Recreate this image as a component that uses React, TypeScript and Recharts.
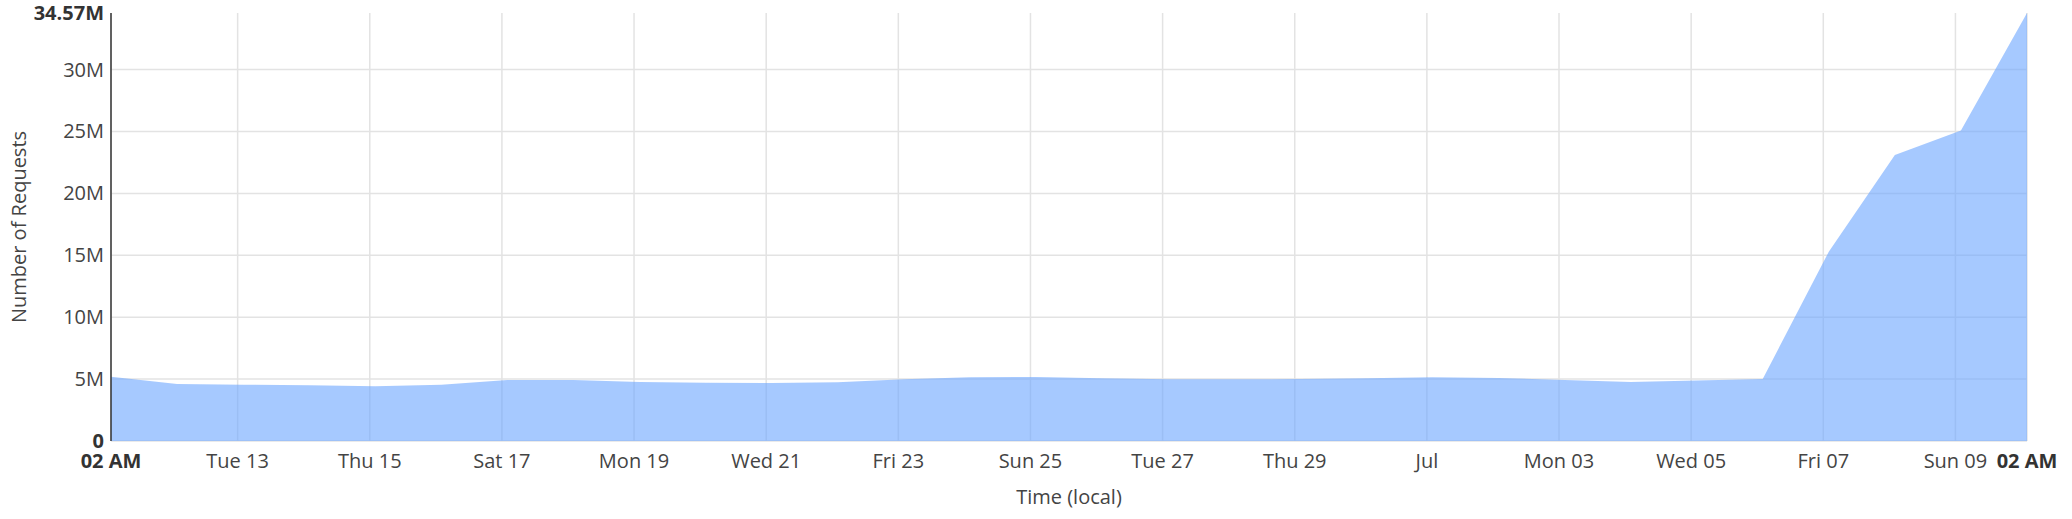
import React from "react";
import { AreaChart, Area, XAxis, YAxis, CartesianGrid } from "recharts";

// one point per day, 02 AM local
const days = [
  "2023-06-11T02:00", "2023-06-12T02:00", "2023-06-13T02:00", "2023-06-14T02:00",
  "2023-06-15T02:00", "2023-06-16T02:00", "2023-06-17T02:00", "2023-06-18T02:00",
  "2023-06-19T02:00", "2023-06-20T02:00", "2023-06-21T02:00", "2023-06-22T02:00",
  "2023-06-23T02:00", "2023-06-24T02:00", "2023-06-25T02:00", "2023-06-26T02:00",
  "2023-06-27T02:00", "2023-06-28T02:00", "2023-06-29T02:00", "2023-06-30T02:00",
  "2023-07-01T02:00", "2023-07-02T02:00", "2023-07-03T02:00", "2023-07-04T02:00",
  "2023-07-05T02:00", "2023-07-06T02:00", "2023-07-07T02:00", "2023-07-08T02:00",
  "2023-07-09T02:00", "2023-07-10T02:00",
];

const requests = [
  5190000, 4600000, 4550000, 4500000, 4420000, 4550000, 4930000, 4930000,
  4770000, 4710000, 4680000, 4740000, 4980000, 5140000, 5170000, 5060000,
  4980000, 4980000, 5010000, 5060000, 5140000, 5090000, 4930000, 4770000,
  4880000, 5010000, 15290000, 23100000, 25070000, 34570000,
];

const xTickTimes = [
  "2023-06-11T02:00", "2023-06-13T00:00", "2023-06-15T00:00", "2023-06-17T00:00",
  "2023-06-19T00:00", "2023-06-21T00:00", "2023-06-23T00:00", "2023-06-25T00:00",
  "2023-06-27T00:00", "2023-06-29T00:00", "2023-07-01T00:00", "2023-07-03T00:00",
  "2023-07-05T00:00", "2023-07-07T00:00", "2023-07-09T00:00", "2023-07-10T02:00",
];

const xTickLabels = [
  "02 AM", "Tue 13", "Thu 15", "Sat 17", "Mon 19", "Wed 21", "Fri 23", "Sun 25",
  "Tue 27", "Thu 29", "Jul", "Mon 03", "Wed 05", "Fri 07", "Sun 09", "02 AM",
];

const yTicks = [0, 5000000, 10000000, 15000000, 20000000, 25000000, 30000000, 34570000];
const yGridValues = [0, 5000000, 10000000, 15000000, 20000000, 25000000, 30000000];

const toTime = (s: string) => Date.parse(s + ":00Z");

const data = days.map((d, i) => ({ t: toTime(d), requests: requests[i] }));
const xTicks = xTickTimes.map(toTime);

const FONT = "'Open Sans', 'Noto Sans', sans-serif";

function formatY(v: number) {
  if (v === 0) return "0";
  if (v === 34570000) return "34.57M";
  return `${v / 1000000}M`;
}

function XTick(props: any) {
  const { x, y, payload } = props;
  const i = xTicks.indexOf(payload.value);
  const edge = i === 0 || i === xTicks.length - 1;
  return (
    <text
      x={x}
      y={y}
      dy={27}
      textAnchor="middle"
      fontSize={20}
      fontFamily={FONT}
      fontWeight={edge ? 700 : 400}
      fill={edge ? "#333" : "#444"}
    >
      {xTickLabels[i]}
    </text>
  );
}

function YTick(props: any) {
  const { x, y, payload } = props;
  const edge = payload.value === 0 || payload.value === 34570000;
  return (
    <text
      x={x}
      y={y}
      dy={7}
      textAnchor="end"
      fontSize={20}
      fontFamily={FONT}
      fontWeight={edge ? 700 : 400}
      fill={edge ? "#333" : "#444"}
    >
      {formatY(payload.value)}
    </text>
  );
}

export default function App() {
  return (
    <div style={{ position: "absolute", left: 0, top: 0 }}>
      <AreaChart
        width={2064}
        height={515}
        data={data}
        margin={{ top: 13, right: 37, bottom: 0, left: 8 }}
      >
        <CartesianGrid
          stroke="#e3e3e3"
          strokeWidth={1.5}
          horizontalValues={yGridValues}
          verticalValues={xTicks}
        />
        <XAxis
          dataKey="t"
          type="number"
          scale="time"
          domain={[xTicks[0], xTicks[xTicks.length - 1]]}
          ticks={xTicks}
          interval={0}
          axisLine={false}
          tickLine={false}
          tickSize={0}
          tickMargin={0}
          height={74}
          tick={<XTick />}
          label={({ viewBox }: any) => (
            <text
              x={viewBox.x + viewBox.width / 2}
              y={viewBox.y + 63}
              textAnchor="middle"
              fontSize={20}
              fontFamily={FONT}
              fill="#444"
            >
              Time (local)
            </text>
          )}
        />
        <YAxis
          type="number"
          domain={[0, 34570000]}
          ticks={yTicks}
          interval={0}
          width={103}
          axisLine={{ stroke: "#333", strokeWidth: 1.5 }}
          tickLine={false}
          tickSize={0}
          tickMargin={7}
          tick={<YTick />}
          label={({ viewBox }: any) => {
            const cx = 18.5;
            const cy = viewBox.y + viewBox.height / 2;
            return (
              <text
                x={cx}
                y={cy}
                dy={7}
                transform={`rotate(-90, ${cx}, ${cy})`}
                textAnchor="middle"
                fontSize={20}
                fontFamily={FONT}
                fill="#444"
              >
                Number of Requests
              </text>
            );
          }}
        />
        <Area
          type="linear"
          dataKey="requests"
          stroke="none"
          fill="#6ba5ff"
          fillOpacity={0.6}
          dot={false}
          activeDot={false}
          isAnimationActive={false}
        />
      </AreaChart>
    </div>
  );
}
